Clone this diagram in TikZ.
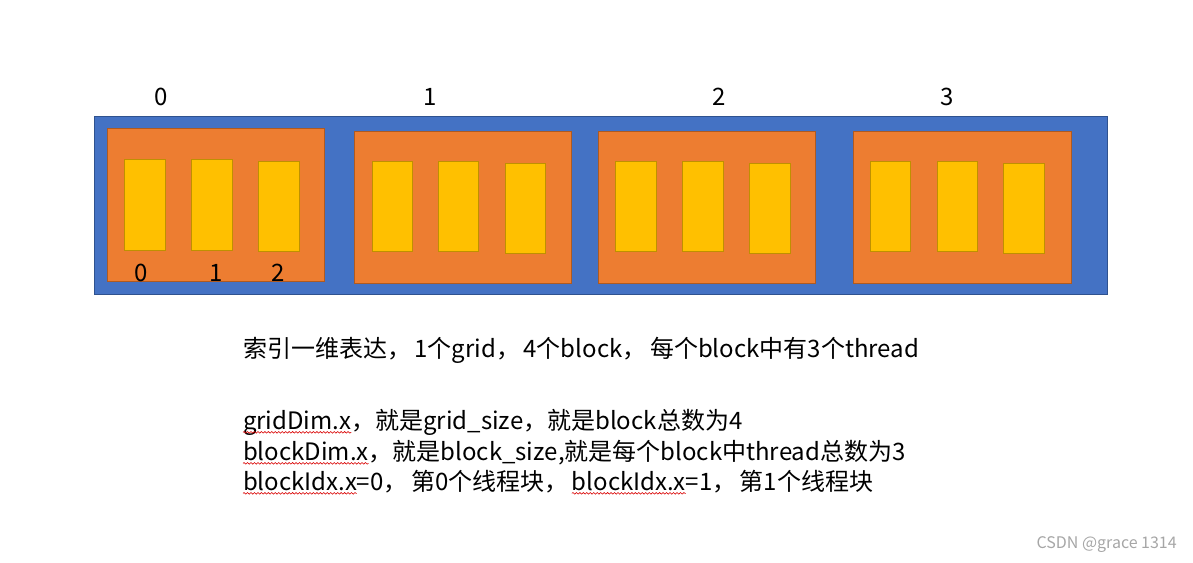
\documentclass[tikz,border=0pt]{standalone}
\usepackage{fontspec}
\setmainfont{Noto Sans CJK SC}
\usetikzlibrary{decorations.pathmorphing}
\definecolor{gridblue}{HTML}{4472C4}
\definecolor{gridblueline}{HTML}{2F528F}
\definecolor{blkorange}{HTML}{ED7D31}
\definecolor{blkorangeline}{HTML}{AE5A21}
\definecolor{thryellow}{HTML}{FFC000}
\definecolor{thryellowline}{HTML}{BF9000}
\definecolor{markgray}{HTML}{A6A6A6}
\newcommand\cgap{\kern2.6pt}
\tikzset{
  gridbox/.style={fill=gridblue, draw=gridblueline, line width=0.75pt},
  blockbox/.style={fill=blkorange, draw=blkorangeline, line width=0.75pt},
  threadbox/.style={fill=thryellow, draw=thryellowline, line width=0.75pt},
  idxlabel/.style={inner sep=0pt, font=\fontsize{18pt}{22pt}\selectfont},
  txt/.style={anchor=base west, inner sep=0pt, outer sep=0pt, font=\fontsize{18pt}{22pt}\selectfont},
  squiggle/.style={draw=red!85!black, line width=0.45pt, decorate,
    decoration={snake, amplitude=0.6pt, segment length=2.6pt}},
  watermark/.style={inner sep=0pt, anchor=east, text=markgray, font=\fontsize{12pt}{14pt}\selectfont}
}
\begin{document}
\begin{tikzpicture}[x=0.75pt, y=-0.75pt]
\useasboundingbox (0,0) rectangle (1193,563);
% grid
\path[gridbox] (94,117) rectangle (1107,294);
% blocks
\path[blockbox] (107,129) rectangle (324,281);
\path[blockbox] (354,132) rectangle (571,283);
\path[blockbox] (598,132) rectangle (815,283);
\path[blockbox] (853,132) rectangle (1071,283);
% threads block 0
\path[threadbox] (124,160) rectangle (165,251);
\path[threadbox] (191,160) rectangle (232,251);
\path[threadbox] (258,162) rectangle (299,252);
% threads block 1
\path[threadbox] (372,162) rectangle (412,252);
\path[threadbox] (438,162) rectangle (478,252);
\path[threadbox] (505,164) rectangle (545,254);
% threads block 2
\path[threadbox] (615,162) rectangle (656,252);
\path[threadbox] (682,162) rectangle (723,252);
\path[threadbox] (749,164) rectangle (790,254);
% threads block 3
\path[threadbox] (870,162) rectangle (910,252);
\path[threadbox] (937,162) rectangle (977,252);
\path[threadbox] (1003,164) rectangle (1044,254);
% block indices
\node[idxlabel] (b0) at (161,97) {0};
\node[idxlabel] (b1) at (430,97) {1};
\node[idxlabel] (b2) at (719,97) {2};
\node[idxlabel] (b3) at (947,97) {3};
% thread indices
\node[idxlabel] (t0) at (141,273) {0};
\node[idxlabel] (t1) at (216,273) {1};
\node[idxlabel] (t2) at (278,273) {2};
% description
\node[txt] (l1) at (243,357) {索引一维表达，\cgap 1个grid，\cgap 4个block，\cgap 每个block中有3个thread};
\node[txt] (l2a) at (243,429) {gridDim.x};
\node[txt] (l2b) at (l2a.base east) {，就是grid\textunderscore size，就是block总数为4};
\node[txt] (l3a) at (243,460) {blockDim.x};
\node[txt] (l3b) at (l3a.base east) {，就是block\textunderscore size,就是每个block中thread总数为3};
\node[txt] (l4a) at (243,490) {blockIdx.x};
\node[txt] (l4b) at (l4a.base east) {=0，\cgap 第0个线程块，\cgap};
\node[txt] (l4c) at (l4b.base east) {blockIdx.x};
\node[txt] (l4d) at (l4c.base east) {=1，\cgap 第1个线程块};
\draw[squiggle] ([yshift=-2.5pt]l2a.base west) -- ([yshift=-2.5pt]l2a.base east);
\draw[squiggle] ([yshift=-2.5pt]l3a.base west) -- ([yshift=-2.5pt]l3a.base east);
\draw[squiggle] ([yshift=-2.5pt]l4a.base west) -- ([yshift=-2.5pt]l4a.base east);
\draw[squiggle] ([yshift=-2.5pt]l4c.base west) -- ([yshift=-2.5pt]l4c.base east);
% watermark
\node[watermark] (wm) at (1177,545) {CSDN @grace 1314};
\end{tikzpicture}
\end{document}
